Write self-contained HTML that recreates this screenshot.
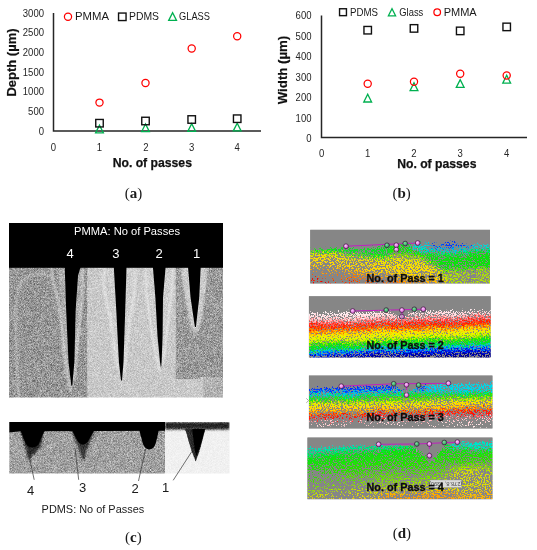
<!DOCTYPE html>
<html><head><meta charset="utf-8"><title>Figure</title>
<style>
html,body{margin:0;padding:0;background:#fff}
svg{display:block}
text{font-family:"Liberation Sans", sans-serif}
text.r{font-family:"Liberation Serif", serif}
</style></head><body>
<svg width="537" height="550" viewBox="0 0 537 550">
<rect width="537" height="550" fill="#fff"/>
<g id="chartA">
<path d="M53.5 13V131H261" fill="none" stroke="#262626" stroke-width="1.5"/>
<text x="44" y="16.5" font-size="10.0" text-anchor="end" fill="#262626" textLength="21.2" lengthAdjust="spacingAndGlyphs">3000</text>
<text x="44" y="36.17" font-size="10.0" text-anchor="end" fill="#262626" textLength="21.2" lengthAdjust="spacingAndGlyphs">2500</text>
<text x="44" y="55.84" font-size="10.0" text-anchor="end" fill="#262626" textLength="21.2" lengthAdjust="spacingAndGlyphs">2000</text>
<text x="44" y="75.51" font-size="10.0" text-anchor="end" fill="#262626" textLength="21.2" lengthAdjust="spacingAndGlyphs">1500</text>
<text x="44" y="95.18" font-size="10.0" text-anchor="end" fill="#262626" textLength="21.2" lengthAdjust="spacingAndGlyphs">1000</text>
<text x="44" y="114.85" font-size="10.0" text-anchor="end" fill="#262626" textLength="15.9" lengthAdjust="spacingAndGlyphs">500</text>
<text x="44" y="134.52" font-size="10.0" text-anchor="end" fill="#262626" textLength="5.3" lengthAdjust="spacingAndGlyphs">0</text>
<text x="53.5" y="150.8" font-size="10.0" text-anchor="middle" fill="#262626" textLength="5.3" lengthAdjust="spacingAndGlyphs">0</text>
<text x="99.5" y="150.8" font-size="10.0" text-anchor="middle" fill="#262626" textLength="5.3" lengthAdjust="spacingAndGlyphs">1</text>
<text x="146" y="150.8" font-size="10.0" text-anchor="middle" fill="#262626" textLength="5.3" lengthAdjust="spacingAndGlyphs">2</text>
<text x="191.7" y="150.8" font-size="10.0" text-anchor="middle" fill="#262626" textLength="5.3" lengthAdjust="spacingAndGlyphs">3</text>
<text x="237.2" y="150.8" font-size="10.0" text-anchor="middle" fill="#262626" textLength="5.3" lengthAdjust="spacingAndGlyphs">4</text>
<text x="152.3" y="166.6" font-size="12.4" text-anchor="middle" fill="#111" font-weight="bold" textLength="79.3" lengthAdjust="spacingAndGlyphs" stroke="#111" stroke-width="0.25">No. of passes</text>
<text transform="translate(16.3 62.5) rotate(-90)" font-size="13" font-weight="bold" text-anchor="middle" fill="#111" textLength="68" lengthAdjust="spacingAndGlyphs" stroke="#111" stroke-width="0.2">Depth (µm)</text>
<circle cx="68" cy="16.8" r="3.6" fill="none" stroke="#f00" stroke-width="1.25"/>
<text x="75" y="19.8" font-size="10.5" text-anchor="start" fill="#1a1a1a" textLength="34" lengthAdjust="spacingAndGlyphs">PMMA</text>
<rect x="118.55" y="13.05" width="7.5" height="7.5" fill="none" stroke="#111" stroke-width="1.4"/>
<text x="129" y="19.8" font-size="10.5" text-anchor="start" fill="#1a1a1a" textLength="30" lengthAdjust="spacingAndGlyphs">PDMS</text>
<path d="M168.70 20.40L172.60 12.60L176.50 20.40Z" fill="none" stroke="#00b050" stroke-width="1.3" stroke-linejoin="miter"/>
<text x="179" y="19.8" font-size="10.5" text-anchor="start" fill="#1a1a1a" textLength="31" lengthAdjust="spacingAndGlyphs">GLASS</text>
<path d="M95.60 132.90L99.50 125.10L103.40 132.90Z" fill="none" stroke="#00b050" stroke-width="1.3" stroke-linejoin="miter"/>
<path d="M141.60 131.70L145.50 123.90L149.40 131.70Z" fill="none" stroke="#00b050" stroke-width="1.3" stroke-linejoin="miter"/>
<path d="M187.80 131.40L191.70 123.60L195.60 131.40Z" fill="none" stroke="#00b050" stroke-width="1.3" stroke-linejoin="miter"/>
<path d="M233.30 130.90L237.20 123.10L241.10 130.90Z" fill="none" stroke="#00b050" stroke-width="1.3" stroke-linejoin="miter"/>
<rect x="95.75" y="119.45" width="7.5" height="7.5" fill="none" stroke="#111" stroke-width="1.4"/>
<rect x="141.75" y="117.25" width="7.5" height="7.5" fill="none" stroke="#111" stroke-width="1.4"/>
<rect x="187.95" y="115.75" width="7.5" height="7.5" fill="none" stroke="#111" stroke-width="1.4"/>
<rect x="233.45" y="114.95" width="7.5" height="7.5" fill="none" stroke="#111" stroke-width="1.4"/>
<circle cx="99.5" cy="102.6" r="3.6" fill="none" stroke="#f00" stroke-width="1.25"/>
<circle cx="145.5" cy="83" r="3.6" fill="none" stroke="#f00" stroke-width="1.25"/>
<circle cx="191.7" cy="48.4" r="3.6" fill="none" stroke="#f00" stroke-width="1.25"/>
<circle cx="237.2" cy="36.2" r="3.6" fill="none" stroke="#f00" stroke-width="1.25"/>
<text x="133.6" y="198.4" font-size="15" text-anchor="middle" fill="#1a1a1a" class="r">(<tspan font-weight="bold">a</tspan>)</text>
</g>
<g id="chartB">
<path d="M321.5 15.6V137.6H527" fill="none" stroke="#262626" stroke-width="1.5"/>
<text x="311.5" y="19.1" font-size="10.0" text-anchor="end" fill="#262626" textLength="15.9" lengthAdjust="spacingAndGlyphs">600</text>
<text x="311.5" y="39.6" font-size="10.0" text-anchor="end" fill="#262626" textLength="15.9" lengthAdjust="spacingAndGlyphs">500</text>
<text x="311.5" y="60.1" font-size="10.0" text-anchor="end" fill="#262626" textLength="15.9" lengthAdjust="spacingAndGlyphs">400</text>
<text x="311.5" y="80.6" font-size="10.0" text-anchor="end" fill="#262626" textLength="15.9" lengthAdjust="spacingAndGlyphs">300</text>
<text x="311.5" y="101.1" font-size="10.0" text-anchor="end" fill="#262626" textLength="15.9" lengthAdjust="spacingAndGlyphs">200</text>
<text x="311.5" y="121.6" font-size="10.0" text-anchor="end" fill="#262626" textLength="15.9" lengthAdjust="spacingAndGlyphs">100</text>
<text x="311.5" y="142.1" font-size="10.0" text-anchor="end" fill="#262626" textLength="5.3" lengthAdjust="spacingAndGlyphs">0</text>
<text x="321.7" y="157.2" font-size="10.0" text-anchor="middle" fill="#262626" textLength="5.3" lengthAdjust="spacingAndGlyphs">0</text>
<text x="367.7" y="157.2" font-size="10.0" text-anchor="middle" fill="#262626" textLength="5.3" lengthAdjust="spacingAndGlyphs">1</text>
<text x="414" y="157.2" font-size="10.0" text-anchor="middle" fill="#262626" textLength="5.3" lengthAdjust="spacingAndGlyphs">2</text>
<text x="460.2" y="157.2" font-size="10.0" text-anchor="middle" fill="#262626" textLength="5.3" lengthAdjust="spacingAndGlyphs">3</text>
<text x="506.7" y="157.2" font-size="10.0" text-anchor="middle" fill="#262626" textLength="5.3" lengthAdjust="spacingAndGlyphs">4</text>
<text x="436.8" y="168.4" font-size="12.4" text-anchor="middle" fill="#111" font-weight="bold" textLength="79.3" lengthAdjust="spacingAndGlyphs" stroke="#111" stroke-width="0.25">No. of passes</text>
<text transform="translate(287.0 70) rotate(-90)" font-size="13" font-weight="bold" text-anchor="middle" fill="#111" textLength="68.5" lengthAdjust="spacingAndGlyphs" stroke="#111" stroke-width="0.2">Width (µm)</text>
<rect x="339.55" y="8.75" width="6.9" height="6.9" fill="none" stroke="#111" stroke-width="1.4"/>
<text x="350" y="15.8" font-size="10.5" text-anchor="start" fill="#1a1a1a" textLength="28" lengthAdjust="spacingAndGlyphs">PDMS</text>
<path d="M388.40 15.80L392.00 8.60L395.60 15.80Z" fill="none" stroke="#00b050" stroke-width="1.3" stroke-linejoin="miter"/>
<text x="399.3" y="15.8" font-size="10.5" text-anchor="start" fill="#1a1a1a" textLength="24" lengthAdjust="spacingAndGlyphs">Glass</text>
<circle cx="437.2" cy="12.2" r="3.3" fill="none" stroke="#f00" stroke-width="1.25"/>
<text x="443.7" y="15.8" font-size="10.5" text-anchor="start" fill="#1a1a1a" textLength="33" lengthAdjust="spacingAndGlyphs">PMMA</text>
<path d="M363.80 102.00L367.70 94.20L371.60 102.00Z" fill="none" stroke="#00b050" stroke-width="1.3" stroke-linejoin="miter"/>
<path d="M410.10 90.60L414.00 82.80L417.90 90.60Z" fill="none" stroke="#00b050" stroke-width="1.3" stroke-linejoin="miter"/>
<path d="M456.30 87.40L460.20 79.60L464.10 87.40Z" fill="none" stroke="#00b050" stroke-width="1.3" stroke-linejoin="miter"/>
<path d="M502.80 83.10L506.70 75.30L510.60 83.10Z" fill="none" stroke="#00b050" stroke-width="1.3" stroke-linejoin="miter"/>
<circle cx="367.7" cy="83.7" r="3.6" fill="none" stroke="#f00" stroke-width="1.25"/>
<circle cx="414" cy="81.7" r="3.6" fill="none" stroke="#f00" stroke-width="1.25"/>
<circle cx="460.2" cy="73.7" r="3.6" fill="none" stroke="#f00" stroke-width="1.25"/>
<circle cx="506.7" cy="75.4" r="3.6" fill="none" stroke="#f00" stroke-width="1.25"/>
<rect x="363.95" y="26.45" width="7.5" height="7.5" fill="none" stroke="#111" stroke-width="1.4"/>
<rect x="410.25" y="24.65" width="7.5" height="7.5" fill="none" stroke="#111" stroke-width="1.4"/>
<rect x="456.45" y="27.15" width="7.5" height="7.5" fill="none" stroke="#111" stroke-width="1.4"/>
<rect x="502.95" y="23.15" width="7.5" height="7.5" fill="none" stroke="#111" stroke-width="1.4"/>
<text x="401.7" y="198.4" font-size="15" text-anchor="middle" fill="#1a1a1a" class="r">(<tspan font-weight="bold">b</tspan>)</text>
</g>
<defs>
<filter id="semN" x="0" y="0" width="100%" height="100%" color-interpolation-filters="sRGB">
<feTurbulence type="fractalNoise" baseFrequency="1.7" numOctaves="1" seed="3" result="t"/>
<feColorMatrix in="t" type="matrix" values="0.95 0 0 0 0.025  0.95 0 0 0 0.025  0.95 0 0 0 0.025  0 0 0 0 1" result="g"/>
<feBlend in="g" in2="SourceGraphic" mode="overlay" result="b"/>
<feGaussianBlur in="b" stdDeviation="0.4" result="bb"/>
<feComposite in="bb" in2="SourceGraphic" operator="in"/>
</filter>
<filter id="bl1"><feGaussianBlur stdDeviation="0.8"/></filter>
<filter id="bl2"><feGaussianBlur stdDeviation="1.6"/></filter>
<clipPath id="cpP"><rect x="9" y="223" width="214" height="174.5"/></clipPath>
<clipPath id="cpD"><rect x="9.2" y="422" width="220.3" height="51.4"/></clipPath>
</defs>
<g clip-path="url(#cpP)"><g filter="url(#semN)">
<rect x="8.9" y="223" width="215" height="176" fill="#c8c8c8"/>
<rect x="8.9" y="223" width="78.3" height="176" fill="#969696"/>
<linearGradient id="drk" gradientUnits="userSpaceOnUse" x1="0" y1="250" x2="0" y2="262"><stop offset="0" stop-color="#9a9a9a" stop-opacity="0"/><stop offset="1" stop-color="#9a9a9a" stop-opacity="1"/></linearGradient>
<path d="M203.5 376H224V398H203.5Z" fill="#b2b2b2"/><path d="M175.8 262H224V377H200.5V379H176.8Q175.8 379 175.8 378Z" fill="url(#drk)"/>
<g fill="none" stroke="#ffffff" stroke-width="1.4" filter="url(#bl1)" opacity="0.8">
<path d="M51.5 268C52 278 55 290 57.8 300C60 310 61.6 320 64 350C65 362 66.7 375 70.5 392"/>
<path d="M83 268C83 280 82.5 290 82 300C81 315 79 330 78 340C77 352 76 365 74 380"/>
<path d="M19 397C16 360 15 320 17 296C19 280 27 275 36 274C44 273 49 275 52 279" opacity="0.6"/>
<path d="M105 268C103 280 103.6 290 108.7 310C111 320 113.8 340 117.6 370"/>
<path d="M135 268C135.6 280 135.4 295 130 320C128 332 126.5 350 124 375"/>
<path d="M145.3 268C145.5 280 146.5 300 151.6 330C153 340 156.7 360 160 372"/>
<path d="M173.3 268C173 280 170.7 300 166.9 330C166 340 164 355 163 364"/>
<path d="M182.2 268C182.5 278 184.7 290 189.8 315L193.6 330"/>
<path d="M206.3 268C206 280 203.8 295 200 320L196.7 332"/>
</g>
<path d="M182.2 266C182.5 278 184.7 290 189.8 315L193.6 331L196.7 332L200 320C203.8 295 206 280 206.3 266Z" fill="#d2d2d2" opacity="0.9" filter="url(#bl1)"/>
<g fill="#d8d8d8" opacity="0.35" filter="url(#bl1)">
<path d="M58 268L64 350L71 390L74 380L79 330L83 268Z"/><path d="M106 268L118 372L124 372L134 300L134 268Z"/><path d="M146 268L158 365L164 360L173 268Z"/>
</g>
</g>
<rect x="8.9" y="223" width="215" height="44.8" fill="#000"/>
<path d="M64.7 267L66.2 311L68.5 362L71.3 385.5L72.3 385.5L74.4 362L75.6 311L78 276L80.5 267ZM113.8 267L116.3 311L118.9 362L121 380.5L122 380.5L123.5 362L125.2 311L126.5 267ZM152.9 267L155.4 298L157.5 336L160 362L161 368L161.6 362L162.6 336L163 298L165.6 267ZM188 267L190.6 298L194.9 327L195.9 327L199.2 298L200.7 267Z" fill="#060606" filter="url(#bl0)"/>
</g>
<defs><filter id="bl0"><feGaussianBlur stdDeviation="0.35"/></filter></defs>
<text x="127" y="235.1" font-size="10.8" text-anchor="middle" fill="#fff" textLength="106" lengthAdjust="spacingAndGlyphs">PMMA: No of Passes</text>
<text x="70" y="258" font-size="13" text-anchor="middle" fill="#fff">4</text>
<text x="115.8" y="258" font-size="13" text-anchor="middle" fill="#fff">3</text>
<text x="159" y="258" font-size="13" text-anchor="middle" fill="#fff">2</text>
<text x="196.6" y="258" font-size="13" text-anchor="middle" fill="#fff">1</text>
<g clip-path="url(#cpD)"><g filter="url(#semN)">
<rect x="9.2" y="422" width="156" height="52" fill="#a0a0a0"/>
<rect x="165" y="422" width="65" height="52" fill="#f0f0f0"/>
<g filter="url(#bl1)">
<path d="M20.8 431L27.3 455L29.3 461L31.5 456L36 452.5L40.8 446.5L44.3 431Z" fill="#2c2c2c"/>
<path d="M71.5 430L77 444L82.5 459.5L84.8 459L86.5 450L88.5 446.5L94.3 430Z" fill="#363636"/>
<path d="M165 422H230V429.5H165Z" fill="#262626"/>
</g>
<g filter="url(#bl0)"><path d="M185 428.5L191.5 451L195.7 461.5L199.5 451L205.5 428.5Z" fill="#2c2c2c"/>
<path d="M192 429L195 452L196.5 456L200.5 446L205 429Z" fill="#060606"/></g>
<circle cx="150.6" cy="470" r="1.3" fill="#eee" stroke="#444" stroke-width="0.5"/>
</g>
<g filter="url(#bl0)">
<path d="M9.2 422H165V430.8L44.5 431.2H20.5L9.2 432.6Z" fill="#000"/>
<path d="M20.6 431L25.5 443C28 448.5 35 449 38.5 444.5L44.3 431Z" fill="#000"/>
<path d="M71.8 430L77.5 441C80 445.5 85 445.5 88 441.5L94.4 430Z" fill="#000"/>
<path d="M139.2 430L142.3 441.5C144.3 452 154.3 452 156.2 441.5L158.9 430Z" fill="#000"/>
</g>
</g>
<path d="M29 456L34.2 479.8M74.9 448L78.7 479.8M145.7 448.5L138.5 481M191.5 452L173.2 480.3" stroke="#333" stroke-width="0.7" fill="none"/>
<text x="30.6" y="494.5" font-size="13" text-anchor="middle" fill="#1a1a1a">4</text>
<text x="82.7" y="491.8" font-size="13" text-anchor="middle" fill="#1a1a1a">3</text>
<text x="135.2" y="493" font-size="13" text-anchor="middle" fill="#1a1a1a">2</text>
<text x="165.6" y="491.6" font-size="13" text-anchor="middle" fill="#1a1a1a">1</text>
<text x="92.9" y="512.6" font-size="10.6" text-anchor="middle" fill="#1a1a1a" textLength="102.6" lengthAdjust="spacingAndGlyphs">PDMS: No of Passes</text>
<text x="133.3" y="542" font-size="15" text-anchor="middle" fill="#1a1a1a" class="r">(<tspan font-weight="bold">c</tspan>)</text>
<defs>
<filter id="dots" x="0" y="0" width="100%" height="100%" color-interpolation-filters="sRGB">
<feTurbulence type="fractalNoise" baseFrequency="0.75" numOctaves="2" seed="7" result="t"/>
<feColorMatrix in="t" type="matrix" values="2.4 0 0 0 -0.7  2.4 0 0 0 -0.7  2.4 0 0 0 -0.7  0 0 0 0 1" result="n0"/>
<feTurbulence type="fractalNoise" baseFrequency="0.035 0.09" numOctaves="2" seed="5" result="tl"/>
<feColorMatrix in="tl" type="matrix" values="1 0 0 0 0  1 0 0 0 0  1 0 0 0 0  0 0 0 0 1" result="nl"/>
<feComposite in="n0" in2="nl" operator="arithmetic" k1="0" k2="1" k3="0.4" k4="-0.2" result="n"/>
<feComposite in="SourceGraphic" in2="n" operator="arithmetic" k1="0" k2="1" k3="1" k4="-1" result="s"/>
<feComponentTransfer in="s"><feFuncR type="linear" slope="12"/><feFuncG type="linear" slope="12"/><feFuncB type="linear" slope="12"/></feComponentTransfer>
</filter>
<filter id="jit" x="0" y="0" width="100%" height="100%" color-interpolation-filters="sRGB">
<feTurbulence type="fractalNoise" baseFrequency="0.03 0.06" numOctaves="2" seed="11" result="tl"/>
<feDisplacementMap in="SourceGraphic" in2="tl" scale="4" xChannelSelector="R" yChannelSelector="G" result="d1"/>
<feTurbulence type="fractalNoise" baseFrequency="0.6" numOctaves="2" seed="23" result="t"/>
<feDisplacementMap in="d1" in2="t" scale="14" xChannelSelector="R" yChannelSelector="G"/>
</filter>
<radialGradient id="mkp" cx="0.4" cy="0.35" r="0.7"><stop offset="0" stop-color="#ffc8ff"/><stop offset="1" stop-color="#d050d0"/></radialGradient><radialGradient id="mkg" cx="0.4" cy="0.35" r="0.7"><stop offset="0" stop-color="#80e0a0"/><stop offset="1" stop-color="#209050"/></radialGradient>
<filter id="soft" x="0" y="0" width="100%" height="100%"><feGaussianBlur stdDeviation="0.5"/></filter>
<filter id="b3" x="-10%" y="-30%" width="120%" height="160%"><feGaussianBlur stdDeviation="1.5"/></filter>
<filter id="b5" x="-10%" y="-30%" width="120%" height="160%"><feGaussianBlur stdDeviation="3"/></filter>
</defs>
<defs><clipPath id="cd1"><rect x="310.2" y="229.8" width="179.8" height="53.7"/></clipPath>
<mask id="md1" maskUnits="userSpaceOnUse" x="310.2" y="229.8" width="179.8" height="53.7"><g filter="url(#dots)"><rect x="302.2" y="221.8" width="195.8" height="69.7" fill="#000"/><linearGradient id="dg1" gradientUnits="userSpaceOnUse" x1="0" y1="244" x2="0" y2="284"><stop offset="0.000" stop-color="#8c8c8c"/><stop offset="0.300" stop-color="#a8a8a8"/><stop offset="0.600" stop-color="#989898"/><stop offset="1.000" stop-color="#787878"/></linearGradient>
<g filter="url(#bl1)"><path d="M306.2 249.5L350 247.5L385 246L400 243.5L450 241.5L494 245V290H306.2Z" fill="url(#dg1)"/></g>
<g filter="url(#b5)"><path d="M304.2 256L380 262L400 290H304.2Z" fill="#000" opacity="0.22"/><path d="M304.2 268L385 286L304.2 296Z" fill="#000" opacity="0.5"/><path d="M424 241H474V249H424Z" fill="#000" opacity="0.3"/><path d="M425 254L496 253V268L430 266Z" fill="#fff" opacity="0.15"/></g></g></mask></defs>
<g clip-path="url(#cd1)"><rect x="310.2" y="229.8" width="179.8" height="53.7" fill="#868686"/>
<g filter="url(#soft)"><rect x="307.2" y="226.8" width="185.8" height="59.7" fill="#868686"/><g mask="url(#md1)"><g filter="url(#jit)"><rect x="300.2" y="219.8" width="199.8" height="73.7" fill="#868686"/><linearGradient id="g1" gradientUnits="userSpaceOnUse" x1="400" y1="243" x2="392.5" y2="303"><stop offset="0.000" stop-color="#00e020"/><stop offset="0.142" stop-color="#20e000"/><stop offset="0.208" stop-color="#b0e400"/><stop offset="0.267" stop-color="#f0e400"/><stop offset="0.500" stop-color="#ffd800"/><stop offset="0.600" stop-color="#ffa800"/><stop offset="0.700" stop-color="#ff6000"/><stop offset="0.800" stop-color="#f00000"/><stop offset="1.000" stop-color="#f00000"/></linearGradient>
<rect x="300.2" y="219.8" width="200" height="74" fill="url(#g1)"/>
<g filter="url(#b3)"><path d="M300 247L350 244L392 243V259L350 254L300 251Z" fill="#10e020"/><path d="M406 238L500 234V250L440 253L412 250Z" fill="#00d8d8"/><path d="M428 239L472 237V247L432 248Z" fill="#0030ff"/>
<path d="M418 257L445 254L500 253V270L445 271Z" fill="#10e010"/><path d="M440 271L500 269V295H455Z" fill="#b0e400"/></g></g></g></g>
<path d="M346 246.2L417.7 243M396.3 245.2V249.6" stroke="#c020c0" stroke-width="1" fill="none"/>
<circle cx="346" cy="246.2" r="2.4" fill="url(#mkp)" stroke="#3a1a3a" stroke-width="0.7"/>
<circle cx="387" cy="245.3" r="2.4" fill="url(#mkg)" stroke="#3a1a3a" stroke-width="0.7"/>
<circle cx="396.3" cy="245.2" r="2.4" fill="url(#mkp)" stroke="#3a1a3a" stroke-width="0.7"/>
<circle cx="396.3" cy="249.6" r="2.4" fill="url(#mkp)" stroke="#3a1a3a" stroke-width="0.7"/>
<circle cx="405.2" cy="243.6" r="2.4" fill="url(#mkg)" stroke="#3a1a3a" stroke-width="0.7"/>
<circle cx="417.7" cy="243" r="2.4" fill="url(#mkp)" stroke="#3a1a3a" stroke-width="0.7"/>
<path d="M345.7 251.2v3.4M386.7 250.3v3.4M396.0 250.2v3.4M396.0 254.6v3.4M404.9 248.6v3.4M417.4 248.0v3.4" stroke="#3c3c3c" stroke-width="1.3" fill="none" opacity="0.7"/><path d="M345.7 251.2v3.4M386.7 250.3v3.4M396.0 250.2v3.4M396.0 254.6v3.4M404.9 248.6v3.4M417.4 248.0v3.4" stroke="#e0e0e0" stroke-width="0.6" fill="none"/>

</g>
<text x="405.15" y="281.5" font-size="11.7" text-anchor="middle" fill="#0c0c0c" font-weight="bold" textLength="77.3" lengthAdjust="spacingAndGlyphs" stroke="#0c0c0c" stroke-width="0.3">No. of Pass = 1</text>
<defs><clipPath id="cd2"><rect x="308.9" y="296.2" width="181.8" height="61.4"/></clipPath>
<mask id="md2" maskUnits="userSpaceOnUse" x="308.9" y="296.2" width="181.8" height="61.4"><g filter="url(#dots)"><rect x="300.9" y="288.2" width="197.8" height="77.4" fill="#000"/><linearGradient id="dg2" gradientUnits="userSpaceOnUse" x1="0" y1="309" x2="0" y2="358"><stop offset="0.000" stop-color="#808080"/><stop offset="0.120" stop-color="#a8a8a8"/><stop offset="0.300" stop-color="#d8d8d8"/><stop offset="0.850" stop-color="#dcdcdc"/><stop offset="0.940" stop-color="#a0a0a0"/><stop offset="1.000" stop-color="#707070"/></linearGradient>
<g filter="url(#bl1)"><path d="M304.9 312L352 311.5L392 312L402 318.5L410 311.5L440 310.8L494.7 310.5V362L304.9 362Z" fill="url(#dg2)"/></g></g></mask></defs>
<g clip-path="url(#cd2)"><rect x="308.9" y="296.2" width="181.8" height="61.4" fill="#868686"/>
<g filter="url(#soft)"><rect x="305.9" y="293.2" width="187.8" height="67.4" fill="#868686"/><g mask="url(#md2)"><g filter="url(#jit)"><rect x="298.9" y="286.2" width="201.8" height="81.4" fill="#868686"/><linearGradient id="g2" gradientUnits="userSpaceOnUse" x1="400" y1="308" x2="401.6" y2="357"><stop offset="0.000" stop-color="#fff0f2"/><stop offset="0.112" stop-color="#ffe8ec"/><stop offset="0.184" stop-color="#ffc0c4"/><stop offset="0.255" stop-color="#ff6868"/><stop offset="0.337" stop-color="#ff1800"/><stop offset="0.418" stop-color="#ff8000"/><stop offset="0.469" stop-color="#ffc800"/><stop offset="0.520" stop-color="#f4f000"/><stop offset="0.592" stop-color="#e0f000"/><stop offset="0.653" stop-color="#80e800"/><stop offset="0.704" stop-color="#10e010"/><stop offset="0.786" stop-color="#00e040"/><stop offset="0.827" stop-color="#00d0e0"/><stop offset="0.878" stop-color="#0050ff"/><stop offset="0.929" stop-color="#0010e0"/><stop offset="1.000" stop-color="#000090"/></linearGradient>
<rect x="298.9" y="286.2" width="202" height="82" fill="url(#g2)"/></g></g></g>
<path d="M352.7 311L423.3 309.2M401.9 310.1V316.6" stroke="#c020c0" stroke-width="1" fill="none"/>
<circle cx="352.7" cy="311" r="2.4" fill="url(#mkp)" stroke="#3a1a3a" stroke-width="0.7"/>
<circle cx="386.2" cy="310.1" r="2.4" fill="url(#mkg)" stroke="#3a1a3a" stroke-width="0.7"/>
<circle cx="401.9" cy="310.1" r="2.4" fill="url(#mkp)" stroke="#3a1a3a" stroke-width="0.7"/>
<circle cx="401.9" cy="316.6" r="2.4" fill="url(#mkp)" stroke="#3a1a3a" stroke-width="0.7"/>
<circle cx="414.3" cy="309.3" r="2.4" fill="url(#mkg)" stroke="#3a1a3a" stroke-width="0.7"/>
<circle cx="423.3" cy="309.2" r="2.4" fill="url(#mkp)" stroke="#3a1a3a" stroke-width="0.7"/>
<path d="M352.4 316.0v3.4M385.9 315.1v3.4M401.6 315.1v3.4M401.6 321.6v3.4M414.0 314.3v3.4M423.0 314.2v3.4" stroke="#3c3c3c" stroke-width="1.3" fill="none" opacity="0.7"/><path d="M352.4 316.0v3.4M385.9 315.1v3.4M401.6 315.1v3.4M401.6 321.6v3.4M414.0 314.3v3.4M423.0 314.2v3.4" stroke="#e0e0e0" stroke-width="0.6" fill="none"/>

</g>
<text x="405.15" y="349.0" font-size="11.7" text-anchor="middle" fill="#0c0c0c" font-weight="bold" textLength="77.3" lengthAdjust="spacingAndGlyphs" stroke="#0c0c0c" stroke-width="0.3">No. of Pass = 2</text>
<defs><clipPath id="cd3"><rect x="308.9" y="375.4" width="183.6" height="53.1"/></clipPath>
<mask id="md3" maskUnits="userSpaceOnUse" x="308.9" y="375.4" width="183.6" height="53.1"><g filter="url(#dots)"><rect x="300.9" y="367.4" width="199.6" height="69.1" fill="#000"/><linearGradient id="dg3" gradientUnits="userSpaceOnUse" x1="0" y1="384" x2="0" y2="428"><stop offset="0.000" stop-color="#8c8c8c"/><stop offset="0.180" stop-color="#b0b0b0"/><stop offset="0.360" stop-color="#b0b0b0"/><stop offset="0.500" stop-color="#989898"/><stop offset="0.620" stop-color="#909090"/><stop offset="0.720" stop-color="#909090"/><stop offset="0.780" stop-color="#606060"/><stop offset="0.860" stop-color="#464646"/><stop offset="0.940" stop-color="#282828"/><stop offset="1.000" stop-color="#000"/></linearGradient>
<g filter="url(#bl1)"><path d="M304.9 387.5L342 387L395 385.5L407 393L418 385.5L448 383.5L496.5 382.5V432L304.9 432Z" fill="url(#dg3)"/></g></g></mask></defs>
<g clip-path="url(#cd3)"><rect x="308.9" y="375.4" width="183.6" height="53.1" fill="#868686"/>
<g filter="url(#soft)"><rect x="305.9" y="372.4" width="189.6" height="59.1" fill="#868686"/><g mask="url(#md3)"><g filter="url(#jit)"><rect x="298.9" y="365.4" width="203.6" height="73.1" fill="#868686"/><linearGradient id="g3" gradientUnits="userSpaceOnUse" x1="400" y1="384" x2="401.2" y2="428"><stop offset="0.000" stop-color="#0020ff"/><stop offset="0.114" stop-color="#0048ff"/><stop offset="0.170" stop-color="#00d0e8"/><stop offset="0.239" stop-color="#00e060"/><stop offset="0.318" stop-color="#30e000"/><stop offset="0.409" stop-color="#c0e800"/><stop offset="0.477" stop-color="#ffe800"/><stop offset="0.568" stop-color="#ffc000"/><stop offset="0.625" stop-color="#ff8000"/><stop offset="0.670" stop-color="#ff2000"/><stop offset="0.739" stop-color="#ff1010"/><stop offset="0.784" stop-color="#ff8088"/><stop offset="0.852" stop-color="#ffc4c8"/><stop offset="1.000" stop-color="#ffecec"/></linearGradient>
<rect x="298.9" y="365.4" width="204" height="74" fill="url(#g3)"/>
<g filter="url(#b3)"><path d="M425 378H500V391L425 390Z" fill="#00d8e8"/></g></g></g></g>
<path d="M341.3 386.2L393.7 383.8L448.4 383.3M406.5 384.8V395" stroke="#c020c0" stroke-width="1" fill="none"/>
<circle cx="341.3" cy="386.2" r="2.4" fill="url(#mkp)" stroke="#3a1a3a" stroke-width="0.7"/>
<circle cx="393.7" cy="383.8" r="2.4" fill="url(#mkg)" stroke="#3a1a3a" stroke-width="0.7"/>
<circle cx="406.5" cy="384.8" r="2.4" fill="url(#mkp)" stroke="#3a1a3a" stroke-width="0.7"/>
<circle cx="406.5" cy="395" r="2.4" fill="url(#mkp)" stroke="#3a1a3a" stroke-width="0.7"/>
<circle cx="418.6" cy="385.1" r="2.4" fill="url(#mkg)" stroke="#3a1a3a" stroke-width="0.7"/>
<circle cx="448.4" cy="383.3" r="2.4" fill="url(#mkp)" stroke="#3a1a3a" stroke-width="0.7"/>
<path d="M341.0 391.2v3.4M393.4 388.8v3.4M406.2 389.8v3.4M406.2 400.0v3.4M418.3 390.1v3.4M448.1 388.3v3.4" stroke="#3c3c3c" stroke-width="1.3" fill="none" opacity="0.7"/><path d="M341.0 391.2v3.4M393.4 388.8v3.4M406.2 389.8v3.4M406.2 400.0v3.4M418.3 390.1v3.4M448.1 388.3v3.4" stroke="#e0e0e0" stroke-width="0.6" fill="none"/>

</g>
<text x="405.15" y="421.2" font-size="11.7" text-anchor="middle" fill="#0c0c0c" font-weight="bold" textLength="77.3" lengthAdjust="spacingAndGlyphs" stroke="#0c0c0c" stroke-width="0.3">No. of Pass = 3</text>
<path d="M306.3 398.4L308.6 400.6L306.3 402.8" stroke="#909090" stroke-width="0.8" fill="none"/>
<defs><clipPath id="cd4"><rect x="307.4" y="437.4" width="185.1" height="61.9"/></clipPath>
<mask id="md4" maskUnits="userSpaceOnUse" x="307.4" y="437.4" width="185.1" height="61.9"><g filter="url(#dots)"><rect x="299.4" y="429.4" width="201.1" height="77.9" fill="#000"/><linearGradient id="dg4" gradientUnits="userSpaceOnUse" x1="0" y1="443" x2="0" y2="500"><stop offset="0.000" stop-color="#b0b0b0"/><stop offset="0.280" stop-color="#c0c0c0"/><stop offset="0.480" stop-color="#8c8c8c"/><stop offset="0.750" stop-color="#787878"/><stop offset="1.000" stop-color="#808080"/></linearGradient>
<g filter="url(#bl1)"><path d="M303.4 447.5L378 445.5L413.5 445.5L421 452.5L431 461.5L438.5 453L446 444.2L458 442.5L496.5 441.5V504H303.4Z" fill="url(#dg4)"/></g>
<g filter="url(#b5)"><path d="M301.4 468L385 484L365 504H301.4Z" fill="#000" opacity="0.4"/><path d="M430 462L496 458V486L440 488Z" fill="#000" opacity="0.12"/></g></g></mask></defs>
<g clip-path="url(#cd4)"><rect x="307.4" y="437.4" width="185.1" height="61.9" fill="#868686"/>
<g filter="url(#soft)"><rect x="304.4" y="434.4" width="191.1" height="67.9" fill="#868686"/><g mask="url(#md4)"><g filter="url(#jit)"><rect x="297.4" y="427.4" width="205.1" height="81.9" fill="#868686"/><linearGradient id="g4" gradientUnits="userSpaceOnUse" x1="400" y1="442" x2="405" y2="502"><stop offset="0.000" stop-color="#00e0c0"/><stop offset="0.067" stop-color="#00e070"/><stop offset="0.150" stop-color="#10e010"/><stop offset="0.433" stop-color="#30e000"/><stop offset="0.617" stop-color="#78e400"/><stop offset="0.767" stop-color="#c8e000"/><stop offset="0.883" stop-color="#f0d800"/><stop offset="1.000" stop-color="#ffb000"/></linearGradient>
<rect x="297.4" y="427.4" width="206" height="82" fill="url(#g4)"/>
<g filter="url(#b3)"><path d="M450 440H500V449L450 448Z" fill="#00e0d0"/><ellipse cx="472" cy="476" rx="26" ry="9" fill="#e0e000" filter="url(#b5)"/><path d="M380 492H455V506H380Z" fill="#ffa000"/></g></g></g></g>
<path d="M378.6 444.3L416.8 444L457.4 442.1M429.4 444V455.7" stroke="#c020c0" stroke-width="1" fill="none"/>
<circle cx="378.6" cy="444.3" r="2.4" fill="url(#mkp)" stroke="#3a1a3a" stroke-width="0.7"/>
<circle cx="416.8" cy="444" r="2.4" fill="url(#mkg)" stroke="#3a1a3a" stroke-width="0.7"/>
<circle cx="429.4" cy="444" r="2.4" fill="url(#mkp)" stroke="#3a1a3a" stroke-width="0.7"/>
<circle cx="429.4" cy="455.7" r="2.4" fill="url(#mkp)" stroke="#3a1a3a" stroke-width="0.7"/>
<circle cx="444.3" cy="442.5" r="2.4" fill="url(#mkg)" stroke="#3a1a3a" stroke-width="0.7"/>
<circle cx="457.4" cy="442.1" r="2.4" fill="url(#mkp)" stroke="#3a1a3a" stroke-width="0.7"/>
<path d="M378.3 449.3v3.4M416.5 449.0v3.4M429.1 449.0v3.4M429.1 460.7v3.4M444.0 447.5v3.4M457.1 447.1v3.4" stroke="#3c3c3c" stroke-width="1.3" fill="none" opacity="0.7"/><path d="M378.3 449.3v3.4M416.5 449.0v3.4M429.1 449.0v3.4M429.1 460.7v3.4M444.0 447.5v3.4M457.1 447.1v3.4" stroke="#e0e0e0" stroke-width="0.6" fill="none"/>
<rect x="430" y="480" width="31.5" height="7.4" fill="#dcdcdc" stroke="#999" stroke-width="0.4"/><text transform="translate(445.7 483.6) rotate(180)" font-size="5.6" text-anchor="middle" fill="#444" y="2">(278.8, 1390)</text>
</g>
<text x="405.15" y="491.3" font-size="11.7" text-anchor="middle" fill="#0c0c0c" font-weight="bold" textLength="77.3" lengthAdjust="spacingAndGlyphs" stroke="#0c0c0c" stroke-width="0.3">No. of Pass = 4</text>
<text x="401.9" y="537.7" font-size="15" text-anchor="middle" fill="#1a1a1a" class="r">(<tspan font-weight="bold">d</tspan>)</text>
</svg>
</body></html>
